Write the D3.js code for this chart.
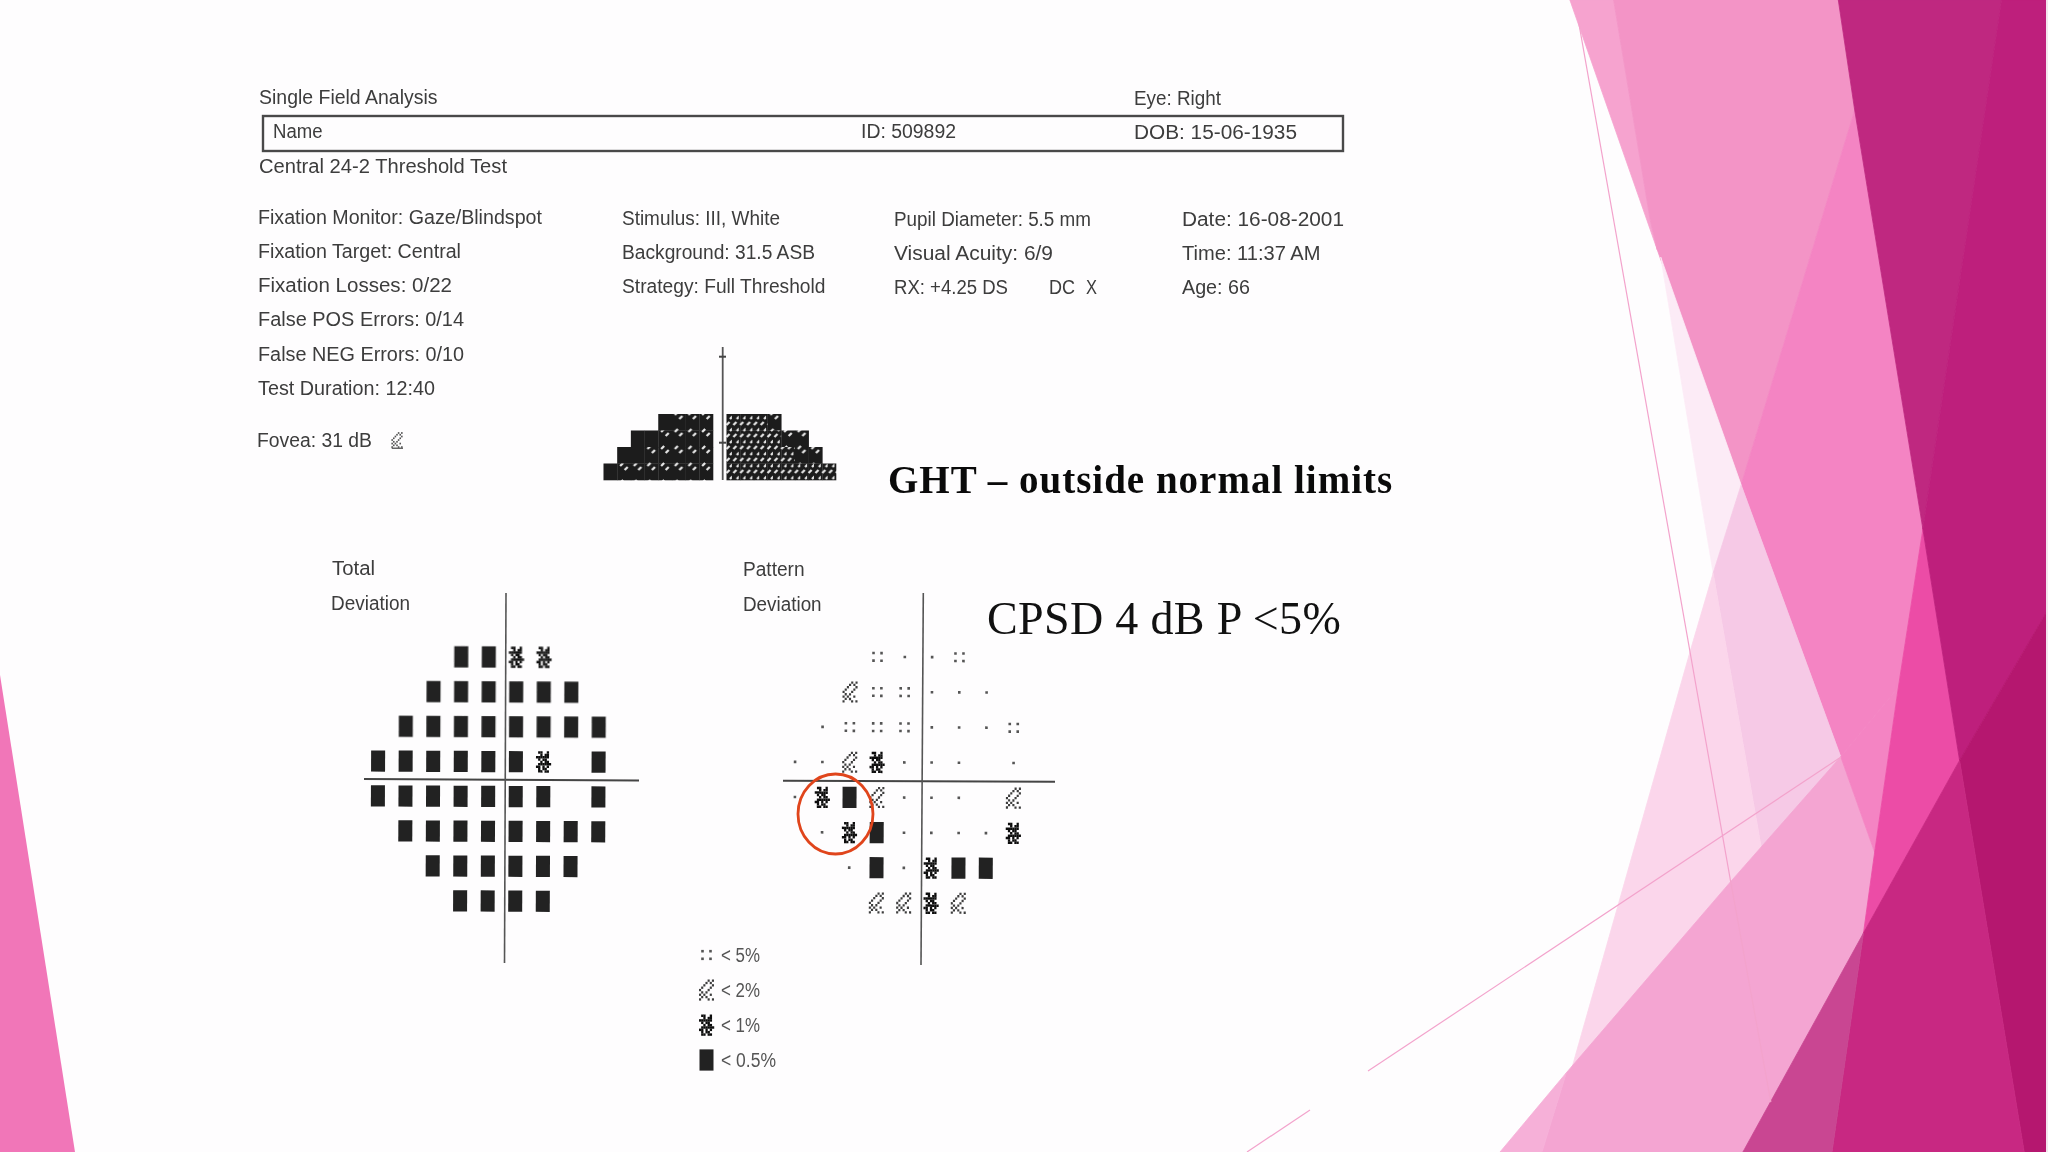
<!DOCTYPE html>
<html>
<head>
<meta charset="utf-8">
<title>Single Field Analysis</title>
<script src="https://cdn.jsdelivr.net/npm/d3@7"></script>
<style>
  html, body { margin: 0; padding: 0; background: #fff; overflow: hidden; }
  text { font-family: "Liberation Sans", Arial, sans-serif; }
</style>
</head>
<body>
<svg id="chart" width="2048" height="1152"></svg>
<script>
// symbol codes: 0 nothing, 1 single dot, 2 < 5%, 3 < 2%, 4 < 1%, 5 < 0.5%
const totalDeviation = [
  [0, 0, 0, 5, 5, 4, 4, 0, 0],
  [0, 0, 5, 5, 5, 5, 5, 5, 0],
  [0, 5, 5, 5, 5, 5, 5, 5, 5],
  [5, 5, 5, 5, 5, 5, 4, 0, 5],
  [5, 5, 5, 5, 5, 5, 5, 0, 5],
  [0, 5, 5, 5, 5, 5, 5, 5, 5],
  [0, 0, 5, 5, 5, 5, 5, 5, 0],
  [0, 0, 0, 5, 5, 5, 5, 0, 0],
];
const patternDeviation = [
  [0, 0, 0, 2, 1, 1, 2, 0, 0],
  [0, 0, 3, 2, 2, 1, 1, 1, 0],
  [0, 1, 2, 2, 2, 1, 1, 1, 2],
  [1, 1, 3, 4, 1, 1, 1, 0, 1],
  [1, 4, 5, 3, 1, 1, 1, 0, 3],
  [0, 1, 4, 5, 1, 1, 1, 1, 4],
  [0, 0, 1, 5, 1, 4, 5, 5, 0],
  [0, 0, 0, 3, 3, 4, 3, 0, 0],
];
const legendCodes = [2, 3, 4, 5];
const legendLabels = ['< 5%', '< 2%', '< 1%', '< 0.5%'];

// gray-tone histogram, top row first: 0 empty, 1 solid, 2 sparse, 3 dense
const histLeft = [
  [0, 0, 0, 0, 1, 2, 2, 2],
  [0, 0, 1, 1, 2, 2, 2, 2],
  [0, 1, 1, 2, 2, 2, 2, 2],
  [1, 2, 2, 2, 2, 2, 2, 2],
];
const histRight = [
  [3, 3, 3, 2, 0, 0, 0, 0],
  [3, 3, 3, 3, 2, 2, 0, 0],
  [3, 3, 3, 3, 3, 2, 2, 0],
  [3, 3, 3, 3, 3, 3, 3, 3],
];

const reportLabels = [
  'Single Field Analysis', 'Eye: Right', 'Name', 'ID: 509892', 'DOB: 15-06-1935', 'Central 24-2 Threshold Test',
  'Fixation Monitor: Gaze/Blindspot', 'Fixation Target: Central', 'Fixation Losses: 0/22',
  'False POS Errors: 0/14', 'False NEG Errors: 0/10', 'Test Duration: 12:40', 'Fovea: 31 dB',
  'Stimulus: III, White', 'Background: 31.5 ASB', 'Strategy: Full Threshold',
  'Pupil Diameter: 5.5 mm', 'Visual Acuity: 6/9', 'RX: +4.25 DS', 'DC', 'X',
  'Date: 16-08-2001', 'Time: 11:37 AM', 'Age: 66',
  'Total', 'Deviation', 'Pattern', 'Deviation',
];

// where each report label sits: start x, baseline y, end x
const reportBoxes = [
  [259, 104, 437.5], [1134, 105, 1221], [273, 138, 322.6], [861, 138, 956], [1134, 139, 1297], [259, 173, 507],
  [258, 224, 542], [258, 258, 461], [258, 292, 452],
  [258, 326, 464], [258, 361, 464], [258, 395, 435], [257, 447, 372],
  [622, 225, 780], [622, 259, 815], [622, 293, 825.5],
  [894, 226, 1091], [894, 260, 1053], [894, 294, 1008], [1049, 294, 1075], [1086, 294, 1097],
  [1182, 226, 1344], [1182, 260, 1320.5], [1182, 294, 1250],
  [332, 575, 375], [331, 610, 410], [743, 576, 804.6], [743, 611, 821.6],
];

// slide background shapes, in coordinates of a 1568 square laid over the right side
const bgShapes = [
  ['#f6a3cf', [[200,0],[325,0],[430,300],[450,340]]],
  ['#f394c6', [[325,0],[968,0],[1015,150],[690,660],[450,340],[430,300]]],
  ['#f484c3', [[1015,150],[1210,720],[1140,935],[975,1030],[690,660]]],
  ['#fcebf6', [[460,350],[690,660],[610,780]]],
  ['#f6c9e6', [[690,660],[975,1030],[750,1160],[610,780]]],
  ['#fbd6eb', [[610,780],[750,1160],[660,1230],[190,1480],[545,885]]],
  ['#f4a5d2', [[975,1030],[1072,1160],[1040,1270],[695,1568],[120,1568],[190,1460],[660,1200]]],
  ['#f6b0d8', [[190,1460],[120,1568],[0,1568]]],
  ['#f484c3', [[975,1030],[1140,935],[1072,1160]]],
  ['#ec4ca6', [[1210,720],[1315,1035],[1040,1270],[1072,1160],[1140,935]]],
  ['#bf2880', [[968,0],[1435,0],[1210,720],[1015,150]]],
  ['#be1f7c', [[1435,0],[1568,0],[1568,830],[1315,1035],[1210,720]]],
  ['#b5176f', [[1568,830],[1315,1035],[1500,1568],[1568,1568]]],
  ['#c82882', [[1315,1035],[1040,1270],[950,1568],[1500,1568]]],
  ['#c94692', [[1040,1270],[950,1568],[695,1568]]],
];

const svg = d3.select('#chart');
const defs = svg.append('defs');

defs.append('filter').attr('id', 'scan')
  .attr('x', '-5%').attr('y', '-5%').attr('width', '110%').attr('height', '110%')
  .append('feGaussianBlur').attr('stdDeviation', 0.6);

// tones for the histogram
function addTone(id, w, h, dashes, size) {
  const p = defs.append('pattern').attr('id', id).attr('patternUnits', 'userSpaceOnUse')
    .attr('width', w).attr('height', h);
  p.append('rect').attr('width', w).attr('height', h).attr('fill', '#1c1c1c');
  dashes.forEach(d => {
    p.append('line').attr('x1', d[0]).attr('y1', d[1]).attr('x2', d[0] + size).attr('y2', d[1] - size)
      .attr('stroke', '#e4e4e4').attr('stroke-width', 2.3);
  });
}
addTone('toneSparse', 13.67, 17, [[5, 7], [9.5, 11]], 3);
addTone('toneDense', 6.84, 12, [[1.5, 5], [4.9, 11]], 3);

const bgX = d3.scaleLinear([0, 1568], [1500, 2048]);
const bgY = d3.scaleLinear([0, 1568], [0, 1152]);

svg.append('rect').attr('width', 2048).attr('height', 1152).attr('fill', '#fefdfe');
svg.append('path').attr('d', 'M0,675L75,1152L0,1152Z').attr('fill', '#f176b8');

svg.append('g').selectAll('path').data(bgShapes).join('path')
  .attr('fill', d => d[0]).attr('stroke', d => d[0]).attr('stroke-width', 0.8)
  .attr('d', d => d3.line().x(p => bgX(p[0])).y(p => bgY(p[1]))(d[1]) + 'Z');

const thin = svg.append('g').attr('fill', 'none').attr('stroke', '#f3a3cc').attr('stroke-width', 1.2);
thin.append('path').attr('d', `M${bgX(225)},${bgY(30)}L${bgX(660)},${bgY(1200)}L${bgX(775)},${bgY(1500)}`);
thin.append('path').attr('d', `M1247,1152L1310,1110`);
thin.append('path').attr('d', `M1368,1071L1841,757`);
svg.append('rect').attr('x', 2046).attr('width', 2).attr('height', 1152).attr('fill', '#f4e6ee');

// the scanned report, slightly soft like the source
const doc = svg.append('g').attr('filter', 'url(#scan)');

doc.append('rect').attr('x', 263).attr('y', 116).attr('width', 1080).attr('height', 35)
  .attr('fill', 'none').attr('stroke', '#4a4a4a').attr('stroke-width', 2.4);

doc.append('g').attr('fill', '#3c3c3c').attr('font-size', 19.5)
  .selectAll('text').data(reportLabels).join('text')
  .attr('x', (d, i) => reportBoxes[i][0]).attr('y', (d, i) => reportBoxes[i][1])
  .attr('textLength', (d, i) => reportBoxes[i][2] - reportBoxes[i][0])
  .attr('lengthAdjust', 'spacingAndGlyphs')
  .text(d => d);

// dot-matrix stamps of the printer symbols
const stamp2 = ['....#.#', '...#.#.', '..#...#', '.#...#.', '#...#..', '.#.#...', '#.#..#.', '.#.#...', '#...#.#'];
const stamp4 = ['.##..#.', '..#.##.', '######.', '.#.##..', '..#.##.', '.######', '##.#.#.', '.#.##..', '.##.##.'];

function drawStamp(g, rows, color, ink) {
  rows.forEach((row, r) => {
    row.split('').forEach((c, k) => {
      if (c === '#') g.append('rect').attr('x', -7.5 + k * 2.15).attr('y', -10.5 + r * 2.35)
        .attr('width', ink).attr('height', ink + 0.2).attr('fill', color);
    });
  });
}

function drawSymbol(g, code) {
  if (code === 1) {
    g.append('rect').attr('x', -1.3).attr('y', -1.3).attr('width', 2.6).attr('height', 2.6).attr('fill', '#555');
  } else if (code === 2) {
    [-4, 4].forEach(dx => [-3.8, 3.8].forEach(dy => {
      g.append('rect').attr('x', dx - 1.3).attr('y', dy - 1.3).attr('width', 2.6).attr('height', 2.6).attr('fill', '#555');
    }));
  } else if (code === 3) {
    drawStamp(g, stamp2, '#3c3c3c', 2.1);
  } else if (code === 4) {
    drawStamp(g, stamp4, '#111', 2.3);
  } else if (code === 5) {
    g.append('rect').attr('x', -7).attr('y', -10.6).attr('width', 14).attr('height', 21.2).attr('fill', '#222');
  }
}

function drawField(matrix, xRange, yRange, hAxis, vAxis, tilt) {
  const x = d3.scalePoint(d3.range(9), xRange);
  const y = d3.scalePoint(d3.range(8), yRange);
  const g = doc.append('g').attr('transform', `rotate(${tilt} ${(xRange[0] + xRange[1]) / 2} ${(yRange[0] + yRange[1]) / 2})`);
  matrix.forEach((row, r) => {
    row.forEach((code, c) => {
      drawSymbol(g.append('g').attr('transform', `translate(${x(c)},${y(r)})`), code);
    });
  });
  doc.append('line').attr('x1', hAxis[0]).attr('y1', hAxis[1]).attr('x2', hAxis[2]).attr('y2', hAxis[3])
    .attr('stroke', '#444').attr('stroke-width', 2);
  doc.append('line').attr('x1', vAxis[0]).attr('y1', vAxis[1]).attr('x2', vAxis[2]).attr('y2', vAxis[3])
    .attr('stroke', '#555').attr('stroke-width', 1.6);
}

drawField(totalDeviation, [378, 598.5], [657, 901], [364, 779, 639, 780.5], [506, 593, 504.5, 963], 0.27);
drawField(patternDeviation, [795, 1013.5], [657, 903], [783, 780.7, 1055, 781.7], [923.3, 593, 921, 965], 0.27);

// gray-tone histogram
const histY = d3.scaleBand(d3.range(4), [414, 480]);
function drawHist(matrix, xRange) {
  const x = d3.scaleBand(d3.range(8), xRange);
  matrix.forEach((row, r) => {
    row.forEach((tone, c) => {
      if (!tone) return;
      doc.append('rect').attr('x', x(c)).attr('y', histY(r))
        .attr('width', x.bandwidth() + 0.3).attr('height', histY.bandwidth() + 0.3)
        .attr('fill', tone === 1 ? '#1c1c1c' : tone === 2 ? 'url(#toneSparse)' : 'url(#toneDense)');
    });
  });
}
drawHist(histLeft, [603.5, 713]);
drawHist(histRight, [726.5, 836]);

doc.append('line').attr('x1', 722.7).attr('y1', 347).attr('x2', 722.7).attr('y2', 480)
  .attr('stroke', '#555').attr('stroke-width', 1.8);
[356.7, 442.7].forEach(t => {
  doc.append('line').attr('x1', 719).attr('y1', t).attr('x2', 726).attr('y2', t).attr('stroke', '#444').attr('stroke-width', 2);
});

// fovea marker
const fovea = doc.append('g').attr('transform', 'translate(397,440) scale(0.75)');
drawStamp(fovea, stamp2, '#555', 2.1);
fovea.append('line').attr('x1', -7).attr('y1', 11).attr('x2', 8).attr('y2', 11).attr('stroke', '#666').attr('stroke-width', 2);

// legend
const legendY = d3.scalePoint(legendCodes, [955, 1060]);
legendCodes.forEach((code, i) => {
  drawSymbol(doc.append('g').attr('transform', `translate(706.5,${legendY(code)})`), code);
  doc.append('text').attr('x', 721).attr('y', legendY(code) + 7).attr('font-size', 19.5).attr('fill', '#555')
    .attr('textLength', code === 5 ? 55 : 39).attr('lengthAdjust', 'spacingAndGlyphs')
    .text(legendLabels[i]);
});

// annotations on top of the report
svg.append('ellipse').attr('cx', 835.5).attr('cy', 814).attr('rx', 37.5).attr('ry', 40)
  .attr('fill', 'none').attr('stroke', '#e0451c').attr('stroke-width', 2.8);

svg.append('text').attr('x', 888).attr('y', 493)
  .style('font-family', '"Liberation Serif", "Times New Roman", serif')
  .attr('font-weight', 'bold').attr('font-size', 39).attr('letter-spacing', 1).attr('fill', '#0a0a0a')
  .text('GHT – outside normal limits');
svg.append('text').attr('x', 987).attr('y', 634)
  .style('font-family', '"Liberation Serif", "Times New Roman", serif')
  .attr('font-size', 46).attr('letter-spacing', 0.35).attr('fill', '#111')
  .text('CPSD 4 dB P <5%');
</script>
</body>
</html>
